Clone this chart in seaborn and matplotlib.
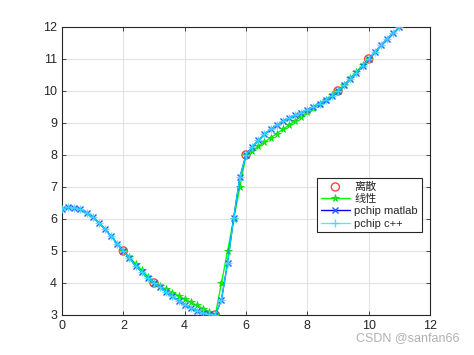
import numpy as np
import pandas as pd
import matplotlib
matplotlib.use("Agg")
import matplotlib.pyplot as plt
import seaborn as sns

# discrete sample points
disc_x = [2, 3, 5, 6, 9, 10]
disc_y = [5, 4, 3, 8, 10, 11]

# linear interpolation samples (x = 2 .. 10, step 0.2)
lin_x = [2.0, 2.2, 2.4, 2.6, 2.8, 3.0, 3.2, 3.4, 3.6, 3.8, 4.0, 4.2, 4.4, 4.6, 4.8,
         5.0, 5.2, 5.4, 5.6, 5.8, 6.0, 6.2, 6.4, 6.6, 6.8, 7.0, 7.2, 7.4, 7.6, 7.8,
         8.0, 8.2, 8.4, 8.6, 8.8, 9.0, 9.2, 9.4, 9.6, 9.8, 10.0]
lin_y = [5.0, 4.8, 4.6, 4.4, 4.2, 4.0, 3.9, 3.8, 3.7, 3.6, 3.5, 3.4, 3.3, 3.2, 3.1,
         3.0, 4.0, 5.0, 6.0, 7.0, 8.0, 8.133, 8.267, 8.4, 8.533, 8.667, 8.8, 8.933,
         9.067, 9.2, 9.333, 9.467, 9.6, 9.733, 9.867, 10.0, 10.2, 10.4, 10.6, 10.8, 11.0]

# pchip samples (x = 0 .. 11, step 0.2)
pch_x = [0.0, 0.2, 0.4, 0.6, 0.8, 1.0, 1.2, 1.4, 1.6, 1.8, 2.0, 2.2, 2.4, 2.6, 2.8,
         3.0, 3.2, 3.4, 3.6, 3.8, 4.0, 4.2, 4.4, 4.6, 4.8, 5.0, 5.2, 5.4, 5.6, 5.8,
         6.0, 6.2, 6.4, 6.6, 6.8, 7.0, 7.2, 7.4, 7.6, 7.8, 8.0, 8.2, 8.4, 8.6, 8.8,
         9.0, 9.2, 9.4, 9.6, 9.8, 10.0, 10.2, 10.4, 10.6, 10.8, 11.0]
pch_matlab_y = [6.308, 6.361, 6.355, 6.297, 6.193, 6.051, 5.878, 5.679, 5.462, 5.233,
                5.000, 4.769, 4.546, 4.340, 4.155, 4.000, 3.860, 3.719, 3.580, 3.449,
                3.327, 3.219, 3.129, 3.060, 3.016, 3.000, 3.477, 4.631, 6.046, 7.307,
                8.000, 8.250, 8.464, 8.646, 8.801, 8.934, 9.048, 9.149, 9.240, 9.327,
                9.413, 9.504, 9.604, 9.717, 9.847, 10.000, 10.175, 10.367, 10.571, 10.784,
                11.000, 11.216, 11.427, 11.629, 11.817, 11.989]
pch_cpp_y = list(pch_matlab_y)

sns.set_style("white")
plt.rcParams['font.family'] = ['Liberation Sans', 'Noto Sans CJK SC', 'DejaVu Sans']

fig = plt.figure(figsize=(4.74, 3.55), dpi=100)
ax = fig.add_axes([0.1308, 0.1127, 0.7764, 0.8113])

sns.scatterplot(x=disc_x, y=disc_y, ax=ax, marker='o', s=34, facecolor='none',
                edgecolor=(1, 0.25, 0.25), linewidth=1, label='离散', zorder=2)
sns.lineplot(x=lin_x, y=lin_y, ax=ax, color=(0, 1, 0), marker='*', markersize=5.5,
             markeredgecolor=(0, 0.85, 0), markerfacecolor=(0, 1, 0),
             markeredgewidth=0.5, linewidth=1, label='线性', sort=False,
             estimator=None, zorder=3)
sns.lineplot(x=pch_x, y=pch_matlab_y, ax=ax, color=(0, 0, 1), marker='x', markersize=4.5,
             markeredgecolor=(0.15, 0.35, 1), markeredgewidth=1, linewidth=1,
             label='pchip matlab', sort=False, estimator=None, zorder=4)
sns.lineplot(x=pch_x, y=pch_cpp_y, ax=ax, color=(0, 1, 1), marker='+', markersize=6,
             markeredgecolor=(0.25, 0.85, 1), markeredgewidth=1, linewidth=0.9,
             label='pchip c++', sort=False, estimator=None, alpha=0.85, zorder=5)

ax.set_xlim(0, 12)
ax.set_ylim(3, 12)
ax.set_xticks([0, 2, 4, 6, 8, 10, 12])
ax.set_yticks([3, 4, 5, 6, 7, 8, 9, 10, 11, 12])
ax.grid(True, color='#e3e3e3', linewidth=0.8)
ax.set_axisbelow(True)
for sp in ax.spines.values():
    sp.set_color('#262626')
    sp.set_linewidth(0.8)
    sp.set_visible(True)
ax.tick_params(direction='in', length=3, width=0.6, colors='#262626',
               labelsize=9, top=True, right=True, bottom=True, left=True,
               labelcolor='#262626')

handles, labels = ax.get_legend_handles_labels()
order = [labels.index(l) for l in ['离散', '线性', 'pchip matlab', 'pchip c++']]
leg = ax.legend([handles[i] for i in order], [labels[i] for i in order],
                loc='upper left', bbox_to_anchor=(0.693, 0.476), borderaxespad=0,
                fancybox=False, framealpha=1, edgecolor='#262626', fontsize=8,
                handlelength=2.6, labelspacing=0.2, borderpad=0.35, handletextpad=0.4)
leg.get_frame().set_linewidth(0.8)

fig.text(0.97, 0.03, 'CSDN @sanfan66', ha='right', va='bottom', color='#b0b0b0',
         fontsize=9)

fig.savefig('out.png', dpi=100)
